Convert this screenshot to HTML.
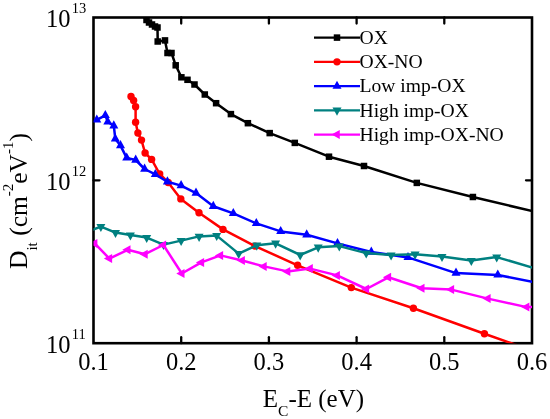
<!DOCTYPE html>
<html><head><meta charset="utf-8"><style>
html,body{margin:0;padding:0;background:#fff;}
svg{display:block;}
text{font-family:"Liberation Serif","Times New Roman",serif;fill:#000;}
</style></head><body>
<svg width="550" height="419" viewBox="0 0 550 419">
<rect width="550" height="419" fill="#fff"/>
<defs><clipPath id="pc"><rect x="93.5" y="17.5" width="438.5" height="325.7"/></clipPath></defs>
<g stroke="#000" stroke-width="2.3" stroke-linecap="round"><line x1="181.20" y1="343.2" x2="181.20" y2="337.2"/><line x1="181.20" y1="17.5" x2="181.20" y2="23.5"/><line x1="268.90" y1="343.2" x2="268.90" y2="337.2"/><line x1="268.90" y1="17.5" x2="268.90" y2="23.5"/><line x1="356.60" y1="343.2" x2="356.60" y2="337.2"/><line x1="356.60" y1="17.5" x2="356.60" y2="23.5"/><line x1="444.30" y1="343.2" x2="444.30" y2="337.2"/><line x1="444.30" y1="17.5" x2="444.30" y2="23.5"/><line x1="93.5" y1="180.35" x2="99.5" y2="180.35"/><line x1="532.0" y1="180.35" x2="526.0" y2="180.35"/></g>
<rect x="93.5" y="17.5" width="438.5" height="325.7" fill="none" stroke="#000" stroke-width="2.6"/>
<g clip-path="url(#pc)">
<g fill="#000000">
<polyline fill="none" stroke="#000000" stroke-width="2.5" stroke-linejoin="round" points="143.0,12.0 146.5,20.0 149.0,22.5 152.0,24.5 155.0,26.5 157.5,27.5 157.7,41.5 165.0,40.4 167.5,53.0 171.5,53.0 175.7,65.3 181.4,77.3 187.5,79.8 194.5,84.5 204.8,94.5 216.1,103.2 230.9,114.1 247.9,123.2 269.7,133.1 294.8,142.9 329.0,156.7 364.0,166.0 416.8,182.9 472.9,197.0 560.0,217.7"/>
<rect x="143.25" y="16.75" width="6.5" height="6.5"/><rect x="145.75" y="19.25" width="6.5" height="6.5"/><rect x="148.75" y="21.25" width="6.5" height="6.5"/><rect x="151.75" y="23.25" width="6.5" height="6.5"/><rect x="154.25" y="24.25" width="6.5" height="6.5"/><rect x="154.45" y="38.25" width="6.5" height="6.5"/><rect x="161.75" y="37.15" width="6.5" height="6.5"/><rect x="164.25" y="49.75" width="6.5" height="6.5"/><rect x="168.25" y="49.75" width="6.5" height="6.5"/><rect x="172.45" y="62.05" width="6.5" height="6.5"/><rect x="178.15" y="74.05" width="6.5" height="6.5"/><rect x="184.25" y="76.55" width="6.5" height="6.5"/><rect x="191.25" y="81.25" width="6.5" height="6.5"/><rect x="201.55" y="91.25" width="6.5" height="6.5"/><rect x="212.85" y="99.95" width="6.5" height="6.5"/><rect x="227.65" y="110.85" width="6.5" height="6.5"/><rect x="244.65" y="119.95" width="6.5" height="6.5"/><rect x="266.45" y="129.85" width="6.5" height="6.5"/><rect x="291.55" y="139.65" width="6.5" height="6.5"/><rect x="325.75" y="153.45" width="6.5" height="6.5"/><rect x="360.75" y="162.75" width="6.5" height="6.5"/><rect x="413.55" y="179.65" width="6.5" height="6.5"/><rect x="469.65" y="193.75" width="6.5" height="6.5"/>
</g>
<g fill="#ff0000">
<polyline fill="none" stroke="#ff0000" stroke-width="2.5" stroke-linejoin="round" points="131.0,96.4 133.6,100.4 135.6,106.7 135.6,122.3 137.9,133.0 141.5,140.1 145.1,153.0 151.6,159.4 159.7,174.0 168.2,182.5 180.8,198.9 199.0,212.8 223.0,229.4 255.0,246.1 297.6,265.3 351.3,287.6 413.4,308.2 484.4,333.8 545.0,355.0"/>
<circle cx="131.00" cy="96.40" r="3.7"/><circle cx="133.60" cy="100.40" r="3.7"/><circle cx="135.60" cy="106.70" r="3.7"/><circle cx="135.60" cy="122.30" r="3.7"/><circle cx="137.90" cy="133.00" r="3.7"/><circle cx="141.50" cy="140.10" r="3.7"/><circle cx="145.10" cy="153.00" r="3.7"/><circle cx="151.60" cy="159.40" r="3.7"/><circle cx="159.70" cy="174.00" r="3.7"/><circle cx="168.20" cy="182.50" r="3.7"/><circle cx="180.80" cy="198.90" r="3.7"/><circle cx="199.00" cy="212.80" r="3.7"/><circle cx="223.00" cy="229.40" r="3.7"/><circle cx="255.00" cy="246.10" r="3.7"/><circle cx="297.60" cy="265.30" r="3.7"/><circle cx="351.30" cy="287.60" r="3.7"/><circle cx="413.40" cy="308.20" r="3.7"/><circle cx="484.40" cy="333.80" r="3.7"/>
</g>
<g fill="#0000ff">
<polyline fill="none" stroke="#0000ff" stroke-width="2.5" stroke-linejoin="round" points="96.8,119.9 105.3,115.4 107.8,121.9 113.8,125.7 115.3,138.9 120.5,145.6 126.7,157.9 135.7,160.0 144.6,169.0 155.3,174.4 167.4,181.8 181.1,185.6 196.0,193.1 213.3,206.3 233.3,213.4 256.3,223.4 280.7,231.4 306.7,234.7 337.5,243.4 371.3,252.0 408.0,257.4 456.0,273.1 497.8,274.9 560.0,287.5"/>
<polygon points="96.80,114.40 101.30,122.60 92.30,122.60"/><polygon points="105.30,109.90 109.80,118.10 100.80,118.10"/><polygon points="107.80,116.40 112.30,124.60 103.30,124.60"/><polygon points="113.80,120.20 118.30,128.40 109.30,128.40"/><polygon points="115.30,133.40 119.80,141.60 110.80,141.60"/><polygon points="120.50,140.10 125.00,148.30 116.00,148.30"/><polygon points="126.70,152.40 131.20,160.60 122.20,160.60"/><polygon points="135.70,154.50 140.20,162.70 131.20,162.70"/><polygon points="144.60,163.50 149.10,171.70 140.10,171.70"/><polygon points="155.30,168.90 159.80,177.10 150.80,177.10"/><polygon points="167.40,176.30 171.90,184.50 162.90,184.50"/><polygon points="181.10,180.10 185.60,188.30 176.60,188.30"/><polygon points="196.00,187.60 200.50,195.80 191.50,195.80"/><polygon points="213.30,200.80 217.80,209.00 208.80,209.00"/><polygon points="233.30,207.90 237.80,216.10 228.80,216.10"/><polygon points="256.30,217.90 260.80,226.10 251.80,226.10"/><polygon points="280.70,225.90 285.20,234.10 276.20,234.10"/><polygon points="306.70,229.20 311.20,237.40 302.20,237.40"/><polygon points="337.50,237.90 342.00,246.10 333.00,246.10"/><polygon points="371.30,246.50 375.80,254.70 366.80,254.70"/><polygon points="408.00,251.90 412.50,260.10 403.50,260.10"/><polygon points="456.00,267.60 460.50,275.80 451.50,275.80"/><polygon points="497.80,269.40 502.30,277.60 493.30,277.60"/>
</g>
<g fill="#008080">
<polyline fill="none" stroke="#008080" stroke-width="2.5" stroke-linejoin="round" points="85.0,232.8 100.9,226.6 115.5,232.6 130.4,235.1 146.7,237.6 163.5,244.6 181.1,240.6 199.1,236.4 216.7,235.6 238.7,253.6 256.8,245.2 275.6,243.3 300.2,255.0 318.2,247.3 339.3,246.1 366.2,253.1 391.1,255.1 415.1,254.3 442.0,256.6 471.3,260.6 496.7,257.1 560.0,275.7"/>
<polygon points="96.40,223.90 105.40,223.90 100.90,232.10"/><polygon points="111.00,229.90 120.00,229.90 115.50,238.10"/><polygon points="125.90,232.40 134.90,232.40 130.40,240.60"/><polygon points="142.20,234.90 151.20,234.90 146.70,243.10"/><polygon points="159.00,241.90 168.00,241.90 163.50,250.10"/><polygon points="176.60,237.90 185.60,237.90 181.10,246.10"/><polygon points="194.60,233.70 203.60,233.70 199.10,241.90"/><polygon points="212.20,232.90 221.20,232.90 216.70,241.10"/><polygon points="234.20,250.90 243.20,250.90 238.70,259.10"/><polygon points="252.30,242.50 261.30,242.50 256.80,250.70"/><polygon points="271.10,240.60 280.10,240.60 275.60,248.80"/><polygon points="295.70,252.30 304.70,252.30 300.20,260.50"/><polygon points="313.70,244.60 322.70,244.60 318.20,252.80"/><polygon points="334.80,243.40 343.80,243.40 339.30,251.60"/><polygon points="361.70,250.40 370.70,250.40 366.20,258.60"/><polygon points="386.60,252.40 395.60,252.40 391.10,260.60"/><polygon points="410.60,251.60 419.60,251.60 415.10,259.80"/><polygon points="437.50,253.90 446.50,253.90 442.00,262.10"/><polygon points="466.80,257.90 475.80,257.90 471.30,266.10"/><polygon points="492.20,254.40 501.20,254.40 496.70,262.60"/>
</g>
<g fill="#ff00ff">
<polyline fill="none" stroke="#ff00ff" stroke-width="2.5" stroke-linejoin="round" points="94.7,243.4 109.4,258.6 127.8,249.8 145.0,254.2 163.4,245.0 181.8,273.5 201.4,262.4 220.4,255.4 242.2,260.5 264.0,266.4 287.6,271.4 310.1,268.6 337.2,275.4 366.4,289.0 388.4,277.3 421.8,288.3 451.4,289.6 487.9,298.6 526.7,307.1 545.0,306.5"/>
<polygon points="89.20,243.40 97.40,238.90 97.40,247.90"/><polygon points="103.90,258.60 112.10,254.10 112.10,263.10"/><polygon points="122.30,249.80 130.50,245.30 130.50,254.30"/><polygon points="139.50,254.20 147.70,249.70 147.70,258.70"/><polygon points="157.90,245.00 166.10,240.50 166.10,249.50"/><polygon points="176.30,273.50 184.50,269.00 184.50,278.00"/><polygon points="195.90,262.40 204.10,257.90 204.10,266.90"/><polygon points="214.90,255.40 223.10,250.90 223.10,259.90"/><polygon points="236.70,260.50 244.90,256.00 244.90,265.00"/><polygon points="258.50,266.40 266.70,261.90 266.70,270.90"/><polygon points="282.10,271.40 290.30,266.90 290.30,275.90"/><polygon points="304.60,268.60 312.80,264.10 312.80,273.10"/><polygon points="331.70,275.40 339.90,270.90 339.90,279.90"/><polygon points="360.90,289.00 369.10,284.50 369.10,293.50"/><polygon points="382.90,277.30 391.10,272.80 391.10,281.80"/><polygon points="416.30,288.30 424.50,283.80 424.50,292.80"/><polygon points="445.90,289.60 454.10,285.10 454.10,294.10"/><polygon points="482.40,298.60 490.60,294.10 490.60,303.10"/><polygon points="521.20,307.10 529.40,302.60 529.40,311.60"/>
</g>
</g>
<g fill="#000000"><line x1="314" y1="37.60" x2="360" y2="37.60" stroke="#000000" stroke-width="2.1"/><rect x="333.75" y="34.35" width="6.5" height="6.5"/></g><text x="359.5" y="43.80" font-size="19.6">OX</text>
<g fill="#ff0000"><line x1="314" y1="61.85" x2="360" y2="61.85" stroke="#ff0000" stroke-width="2.1"/><circle cx="337.00" cy="61.85" r="3.7"/></g><text x="359.5" y="68.05" font-size="19.6">OX-NO</text>
<g fill="#0000ff"><line x1="314" y1="86.10" x2="360" y2="86.10" stroke="#0000ff" stroke-width="2.1"/><polygon points="337.00,80.63 341.50,88.83 332.50,88.83"/></g><text x="359.5" y="92.30" font-size="19.6">Low imp-OX</text>
<g fill="#008080"><line x1="314" y1="110.35" x2="360" y2="110.35" stroke="#008080" stroke-width="2.1"/><polygon points="332.50,107.62 341.50,107.62 337.00,115.82"/></g><text x="359.5" y="116.55" font-size="19.6">High imp-OX</text>
<g fill="#ff00ff"><line x1="314" y1="134.60" x2="360" y2="134.60" stroke="#ff00ff" stroke-width="2.1"/><polygon points="331.53,134.60 339.73,130.10 339.73,139.10"/></g><text x="359.5" y="140.80" font-size="19.6">High imp-OX-NO</text>

<text x="93.50" y="369.5" text-anchor="middle" font-size="24.5">0.1</text><text x="181.20" y="369.5" text-anchor="middle" font-size="24.5">0.2</text><text x="268.90" y="369.5" text-anchor="middle" font-size="24.5">0.3</text><text x="356.60" y="369.5" text-anchor="middle" font-size="24.5">0.4</text><text x="444.30" y="369.5" text-anchor="middle" font-size="24.5">0.5</text><text x="532.00" y="369.5" text-anchor="middle" font-size="24.5">0.6</text>
<text x="46" y="27.40" font-size="24.5">10<tspan font-size="14.5" dx="1.3" dy="-14.6">13</tspan></text><text x="46" y="190.25" font-size="24.5">10<tspan font-size="14.5" dx="1.3" dy="-14.6">12</tspan></text><text x="46" y="353.10" font-size="24.5">10<tspan font-size="14.5" dx="1.3" dy="-14.6">11</tspan></text>
<text x="262.8" y="406.8" font-size="25">E<tspan font-size="15.5" dy="9.3">C</tspan><tspan dy="-9.3">-E (eV)</tspan></text>
<text transform="translate(26.7,269) rotate(-90)" font-size="25.5">D<tspan font-size="15" dy="10">it</tspan><tspan dy="-10"> (cm</tspan><tspan font-size="15" dy="-14">-2</tspan><tspan dy="14">eV</tspan><tspan font-size="15" dy="-14">-1</tspan><tspan dy="14">)</tspan></text>
</svg>
</body></html>
